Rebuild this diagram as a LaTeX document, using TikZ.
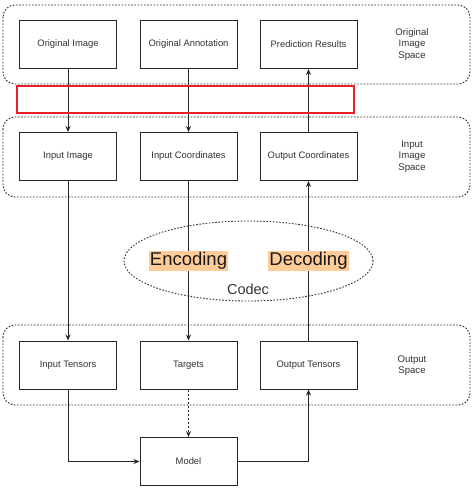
\documentclass[tikz,border=0pt]{standalone}
\usepackage{fontspec}
\setmainfont{Liberation Sans}
\usetikzlibrary{arrows.meta,shapes.geometric}
\definecolor{txt}{HTML}{333333}
\definecolor{hl}{HTML}{FFCC99}
\definecolor{redbox}{HTML}{E8202A}
\tikzset{
  box/.style={draw=black!85, line width=1pt, fill=white, minimum width=97pt, minimum height=48pt, inner sep=0pt, text=txt, font=\fontsize{9.4}{11}\selectfont},
  group/.style={draw=black!85, line width=0.9pt, dash pattern=on 1.6pt off 1.6pt, rounded corners=12pt},
  side/.style={text=txt, font=\fontsize{9.6}{11.5}\selectfont, align=center},
  arr/.style={draw=black!85, line width=1pt, -{Stealth[length=6pt,width=5pt]}},
  hlab/.style={fill=hl, inner xsep=1pt, inner ysep=1.5pt, font=\fontsize{18.5}{20}\selectfont, text=black!90},
}
\begin{document}
\begin{tikzpicture}[x=1pt,y=-1pt]
\useasboundingbox[fill=white] (0,0) rectangle (474,490);
% groups
\draw[group] (3,5) rectangle (470,84);
\draw[group] (3,117) rectangle (470,197);
\draw[group] (3,325) rectangle (470,405);
% codec ellipse
\node[ellipse, draw=black!80, line width=0.9pt, dash pattern=on 1.6pt off 1.6pt, minimum width=249pt, minimum height=80pt, inner sep=0pt] (codec) at (248.5,261) {};
\node[text=txt, font=\fontsize{14.5}{16}\selectfont] (codectxt) at (248,289) {Codec};
% boxes
\node[box] (oi) at (68,44.5) {Original Image};
\node[box] (oa) at (188.5,44.5) {Original Annotation};
\node[box] (pr) at (308.5,44.5) {Prediction Results};
\node[box] (ii) at (68,156.5) {Input Image};
\node[box] (ic) at (188.5,156.5) {Input Coordinates};
\node[box] (oc) at (308.5,156.5) {Output Coordinates};
\node[box] (it) at (68,365) {Input Tensors};
\node[box] (tg) at (188.5,365) {Targets};
\node[box] (ot) at (308.5,365) {Output Tensors};
\node[box] (md) at (188.5,461.5) {Model};
% side labels
\node[side] (s1) at (412,44.5) {Original\\Image\\Space};
\node[side] (s2) at (412,156.5) {Input\\Image\\Space};
\node[side] (s3) at (412,365.5) {Output\\Space};
% connectors
\draw[arr] (oi) -- (ii);
\draw[arr] (oa) -- (ic);
\draw[arr] (oc) -- (pr);
\draw[arr] (ii) -- (it);
\draw[arr] (ic) -- (tg);
\draw[arr] (ot) -- (oc);
\draw[arr] (it.south) |- (md.west);
\draw[arr, dash pattern=on 2pt off 2pt] (tg) -- (md);
\draw[arr] (md.east) -| (ot.south);
% highlighted labels
\node[hlab] (enc) at (188.5,261) {Encoding};
\node[hlab] (dec) at (308.5,261) {Decoding};
% red rectangle
\draw[redbox, line width=2.6pt] (17,86) rectangle (354,113);
\end{tikzpicture}
\end{document}
